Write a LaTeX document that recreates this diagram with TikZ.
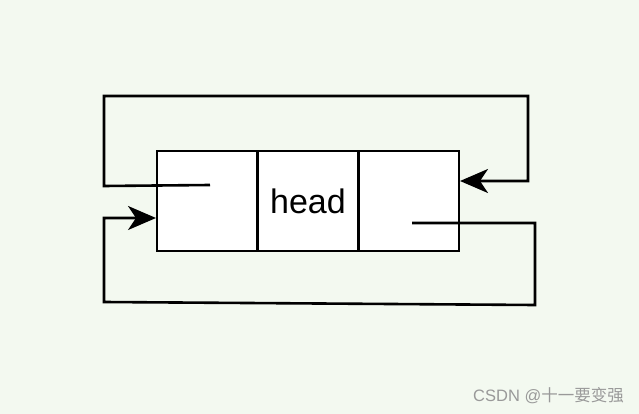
\documentclass[tikz,border=0pt]{standalone}
\usepackage{fontspec}
\setmainfont{Liberation Sans}
\newfontfamily\cjk{Noto Sans CJK SC}
\usetikzlibrary{arrows.meta}
\definecolor{bg}{HTML}{F3F9F0}
\begin{document}
\begin{tikzpicture}[x=1pt,y=-1pt,
  cell/.style={draw,line width=2pt,fill=white,minimum width=100pt,minimum height=100pt,inner sep=0,anchor=north west},
  link/.style={line width=2.6pt,-{Stealth[length=28pt,width=24pt,inset=8pt]}}]
\fill[bg] (0,0) rectangle (639,414);
\useasboundingbox (0,0) rectangle (639,414);
\node[cell] (c1) at (156,150) {};
\node[cell] (c2) at (257,150) {\fontsize{34}{38}\selectfont head};
\node[cell] (c3) at (358,150) {};
\coordinate (p1) at (210,185);
\coordinate (p2) at (412,223);
\draw[link] (p1) -- (104,186) -- (104,96) -- (528,96) -- (528,181) -- (c3.east |- 0,181);
\draw[link] (p2) -- (535,223) -- (535,305) -- (104,302) -- (104,218) -- (c1.west |- 0,218);
\node[text=gray!80,anchor=east,inner sep=0] (wm) at (624,396) {\fontsize{16.5}{20}\selectfont CSDN @\cjk 十一要变强};
\end{tikzpicture}
\end{document}
